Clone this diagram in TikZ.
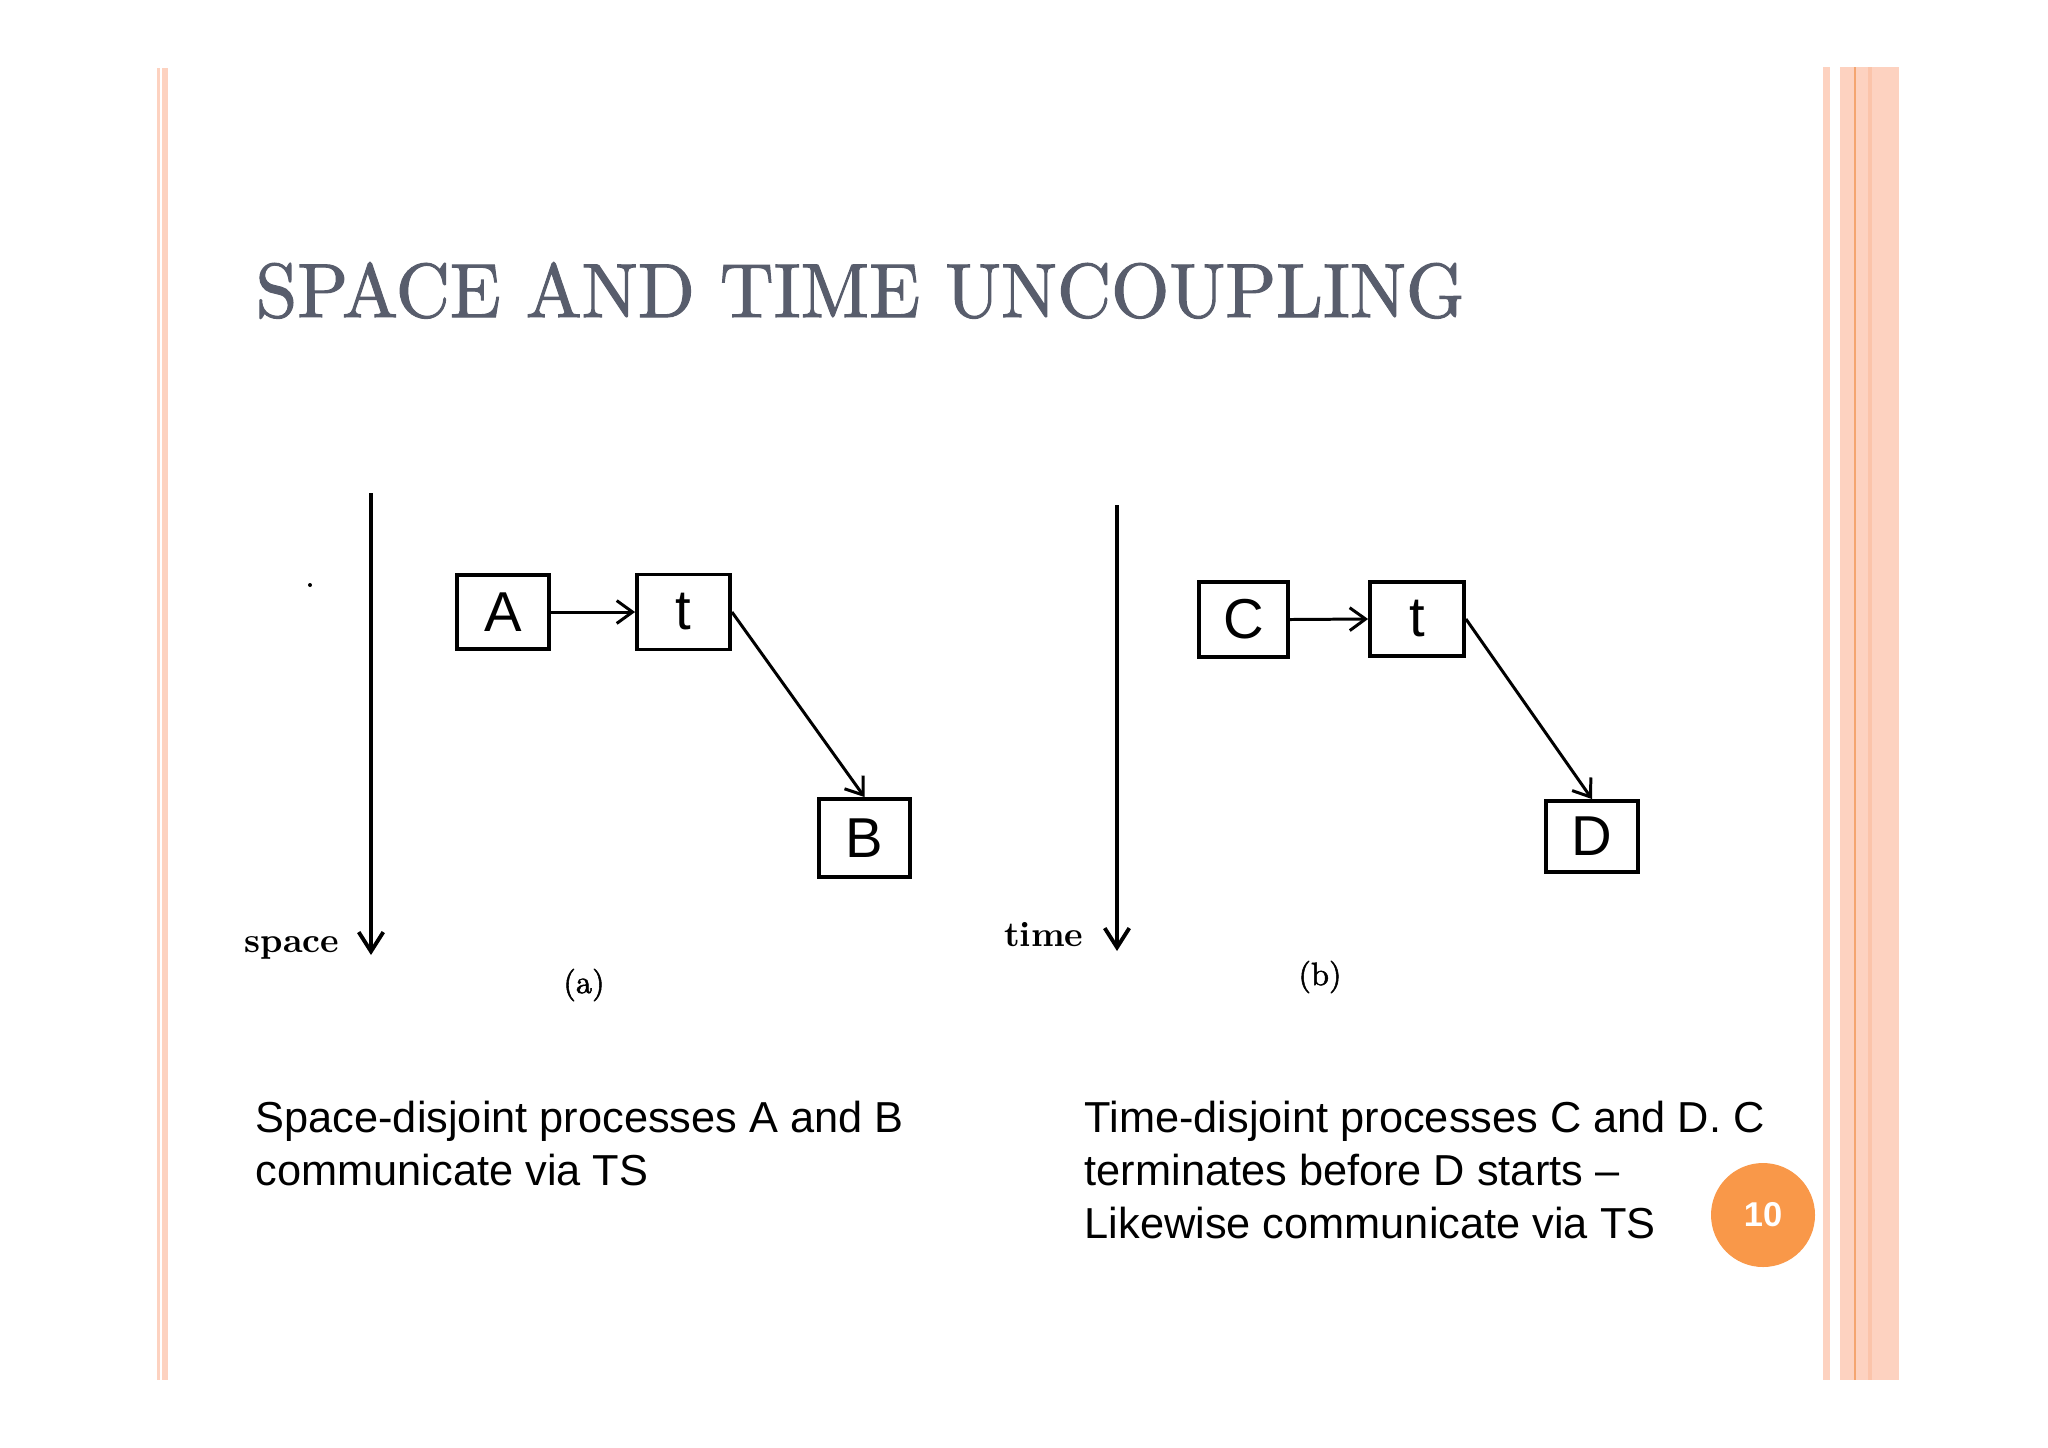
\documentclass[tikz,border=0pt]{standalone}
\usepackage{fontspec}
\usepackage{graphicx}
\newfontfamily\arialfont{Liberation Sans}
\newfontfamily\titlefont{lmroman10-regular.otf}[FakeBold=1.4]
\newfontfamily\capfont{lmroman10-regular.otf}[FakeBold=1.6]
\usetikzlibrary{arrows.meta}
\definecolor{peach}{RGB}{253,210,192}
\definecolor{peachdark}{RGB}{251,196,170}
\definecolor{peachline}{RGB}{244,165,112}
\definecolor{titlegray}{RGB}{88,93,108}
\definecolor{pgorange}{RGB}{249,152,73}
\begin{document}
\begin{tikzpicture}[x=0.1mm,y=-0.1mm,
  procbox/.style={draw, line width=1.1pt, inner sep=0pt, font=\arialfont\fontsize{16pt}{16pt}\selectfont},
  conn/.style={line width=0.85pt, -{Straight Barb[length=4.5pt,width=6.5pt]}},
  axisline/.style={line width=1.1pt, -{Straight Barb[length=5.5pt,width=7pt]}},
  axlabel/.style={inner sep=0pt, font=\bfseries\fontsize{10pt}{12pt}\selectfont},
  caption/.style={inner sep=0pt, font=\capfont\fontsize{9.2pt}{12pt}\selectfont},
  bodytext/.style={inner sep=0pt, anchor=base west, font=\arialfont\fontsize{12.33pt}{15.1pt}\selectfont},
]
\useasboundingbox (0,0) rectangle (2048,1447);
\fill[white] (0,0) rectangle (2048,1447);

% left border
\fill[peach] (157,68) rectangle (160,1380);
\fill[peach] (162,68) rectangle (168,1380);
% right border
\fill[peach] (1823,67) rectangle (1830,1380);
\fill[peach] (1840,67) rectangle (1899,1380);
\fill[peachdark] (1868,67) rectangle (1872,1380);
\fill[peachline] (1854,67) rectangle (1856,1380);

% title
\node[inner sep=0pt, anchor=base west, text=titlegray] (title) at (255,317)
  {\resizebox{344pt}{15.6pt}{\titlefont SPACE AND TIME UNCOUPLING}};

% ---------- diagram (a) ----------
\coordinate (sa1) at (371,493);
\coordinate (sa2) at (371,955);
\draw[axisline] (sa1) -- (sa2);
\node[axlabel, anchor=base east] (spacel) at (340,952) {space};
\fill (310,585) circle (2);

\node[procbox, minimum width=9.2mm, minimum height=7.4mm] (A) at (503,612) {A};
\node[procbox, minimum width=9.3mm, minimum height=7.5mm] (ta) at (683.5,612) {t};
\node[procbox, minimum width=9.1mm, minimum height=7.8mm] (B) at (864.5,838) {B};
\draw[conn] (A.east) -- (ta.west);
\draw[conn] (ta.east) -- (B.north);
\node[caption] (capa) at (584,985) {(a)};

% ---------- diagram (b) ----------
\coordinate (tb1) at (1117,505);
\coordinate (tb2) at (1117,951);
\draw[axisline] (tb1) -- (tb2);
\node[axlabel, anchor=base east] (timel) at (1084,946) {time};

\node[procbox, minimum width=8.9mm, minimum height=7.5mm] (C) at (1243.5,619.5) {C};
\node[procbox, minimum width=9.4mm, minimum height=7.4mm] (tbx) at (1417,619) {t};
\node[procbox, minimum width=9.2mm, minimum height=7.1mm] (D) at (1592,836.5) {D};
\draw[conn] (C.east) -- (tbx.west);
\draw[conn] (tbx.east) -- (D.north);
\node[caption] (capb) at (1320,977) {(b)};

% ---------- body text ----------
\node[bodytext] (l1) at (255,1132) {Space-disjoint processes A and B};
\node[bodytext] (l2) at (255,1185) {communicate via TS};
\node[bodytext] (r1) at (1084,1132) {Time-disjoint processes C and D. C};
\node[bodytext] (r2) at (1084,1185) {terminates before D starts –};
\node[bodytext] (r3) at (1084,1238) {Likewise communicate via TS};

% page number
\node[circle, fill=pgorange, minimum size=10.4mm, inner sep=0pt, text=white,
  font=\arialfont\bfseries\fontsize{9.8pt}{10pt}\selectfont] (pnum) at (1763,1215) {10};
\end{tikzpicture}
\end{document}
